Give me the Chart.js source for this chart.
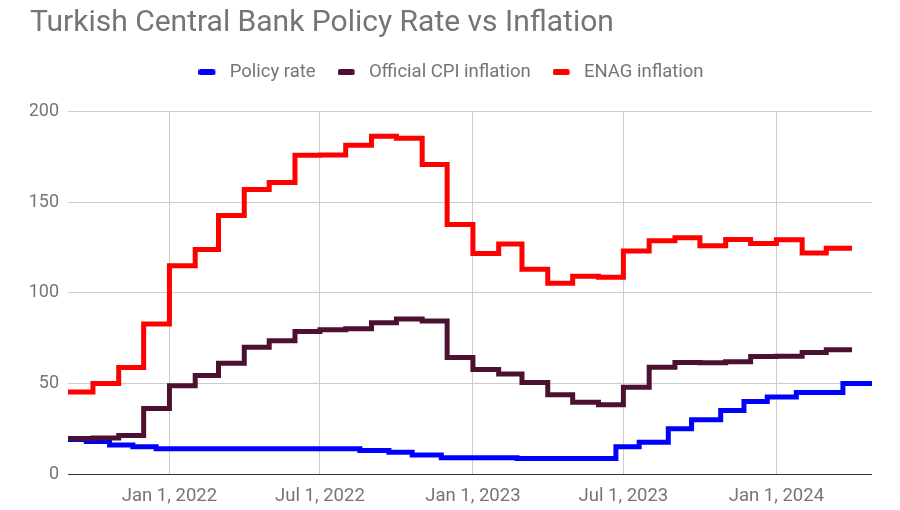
<!DOCTYPE html>
<html>
<head>
<meta charset="utf-8">
<title>Turkish Central Bank Policy Rate vs Inflation</title>
<script src="https://cdn.jsdelivr.net/npm/chart.js@4"></script>
<style>
    html, body { margin: 0; padding: 0; background: #fff; }
    #wrap { position: relative; width: 900px; height: 510px; }
</style>
</head>
<body>
<div id="wrap"><canvas id="rateChart"></canvas></div>
<script>
// Monthly inflation readings (first of month), the last step runs until inflationEnd
const inflationMonths = [
    '2021-09-01', '2021-10-01', '2021-11-01', '2021-12-01',
    '2022-01-01', '2022-02-01', '2022-03-01', '2022-04-01', '2022-05-01', '2022-06-01',
    '2022-07-01', '2022-08-01', '2022-09-01', '2022-10-01', '2022-11-01', '2022-12-01',
    '2023-01-01', '2023-02-01', '2023-03-01', '2023-04-01', '2023-05-01', '2023-06-01',
    '2023-07-01', '2023-08-01', '2023-09-01', '2023-10-01', '2023-11-01', '2023-12-01',
    '2024-01-01', '2024-02-01', '2024-03-01'
];
const inflationEnd = '2024-04-01';

const cpiInflation = [
    19.6, 19.9, 21.3, 36.1,
    48.7, 54.4, 61.1, 70.0, 73.5, 78.6, 79.6, 80.2, 83.5, 85.5, 84.4, 64.3,
    57.7, 55.2, 50.5, 43.7, 39.6, 38.2, 47.8, 58.9, 61.5, 61.4, 62.0, 64.8,
    64.9, 67.1, 68.5
];
const enagInflation = [
    45.3, 49.9, 58.7, 82.8,
    114.9, 123.8, 142.6, 156.9, 160.8, 175.9, 176.0, 181.4, 186.3, 185.3, 170.7, 137.6,
    121.6, 126.9, 113.0, 105.2, 109.1, 108.6, 123.1, 128.7, 130.3, 126.0, 129.4, 127.2,
    129.3, 121.9, 124.6
];

// Policy rate changes (MPC decision dates)
const policyDates = [
    '2021-09-01', '2021-09-23', '2021-10-21', '2021-11-18', '2021-12-16',
    '2022-08-18', '2022-09-22', '2022-10-20', '2022-11-24', '2023-02-23',
    '2023-06-22', '2023-07-20', '2023-08-24', '2023-09-21', '2023-10-26',
    '2023-11-23', '2023-12-21', '2024-01-25', '2024-03-21', '2024-04-25'
];
const policyRate = [19, 18, 16, 15, 14, 13, 12, 10.5, 9, 8.5, 15, 17.5, 25, 30, 35, 40, 42.5, 45, 50, 50];

const xTickDates = ['2022-01-01', '2022-07-01', '2023-01-01', '2023-07-01', '2024-01-01'];
const yTicks = [0, 50, 100, 150, 200];

const monthNames = ['Jan', 'Feb', 'Mar', 'Apr', 'May', 'Jun', 'Jul', 'Aug', 'Sep', 'Oct', 'Nov', 'Dec'];
const toTime = s => Date.parse(s);

function formatDate(t) {
    const d = new Date(t);
    return `${monthNames[d.getUTCMonth()]} ${d.getUTCDate()}, ${d.getUTCFullYear()}`;
}

function stepSeries(dates, values, endDate) {
    const pts = dates.map((d, i) => ({ x: toTime(d), y: values[i] }));
    if (endDate) pts.push({ x: toTime(endDate), y: values[values.length - 1] });
    return pts;
}

// small rounded bar for the legend, with room after it for the gap to the text
function legendMarker(color) {
    const c = document.createElement('canvas');
    c.width = 22;
    c.height = 6;
    const g = c.getContext('2d');
    g.fillStyle = color;
    g.beginPath();
    if (g.roundRect) g.roundRect(0, 0, 17, 6, 2); else g.rect(0, 0, 17, 6);
    g.fill();
    return c;
}

const legendSpacing = {
    id: 'legendSpacing',
    beforeInit(chart) {
        const fit = chart.legend.fit;
        chart.legend.fit = function () {
            fit.bind(chart.legend)();
            this.height += 20;
        };
    }
};

const font = { family: 'Roboto' };
const textGray = '#757575';

const series = [
    { label: 'Policy rate', color: '#0000ff', data: stepSeries(policyDates, policyRate), order: 3 },
    { label: 'Official CPI inflation', color: '#4c1130', data: stepSeries(inflationMonths, cpiInflation, inflationEnd), order: 2 },
    { label: 'ENAG inflation', color: '#ff0000', data: stepSeries(inflationMonths, enagInflation, inflationEnd), order: 1 }
];

new Chart(document.getElementById('rateChart').getContext('2d'), {
    type: 'line',
    data: {
        datasets: series.map(s => ({
            label: s.label,
            data: s.data,
            order: s.order,
            borderColor: s.color,
            backgroundColor: s.color,
            borderWidth: 5,
            borderJoinStyle: 'miter',
            borderCapStyle: 'butt',
            stepped: true,
            pointRadius: 0,
            pointHoverRadius: 0,
            pointStyle: legendMarker(s.color),
            fill: false
        }))
    },
    options: {
        responsive: true,
        maintainAspectRatio: false,
        animation: false,
        layout: { padding: { top: 0, left: 30, right: 28, bottom: 0 } },
        plugins: {
            title: {
                display: true,
                text: 'Turkish Central Bank Policy Rate vs Inflation',
                align: 'start',
                color: textGray,
                font: { ...font, size: 30, weight: 'normal' },
                padding: { top: 5, bottom: 0 }
            },
            legend: {
                position: 'top',
                align: 'center',
                labels: {
                    usePointStyle: true,
                    pointStyleWidth: 22,
                    padding: 22,
                    color: textGray,
                    font: { ...font, size: 18.5 },
                    sort: (a, b) => a.datasetIndex - b.datasetIndex
                }
            },
            tooltip: { enabled: false }
        },
        scales: {
            x: {
                type: 'linear',
                min: toTime(policyDates[0]),
                max: toTime(policyDates[policyDates.length - 1]),
                afterBuildTicks: scale => {
                    scale.ticks = xTickDates.map(d => ({ value: toTime(d) }));
                },
                afterFit: scale => { scale.height = 36; },
                border: { display: false },
                grid: { color: '#cccccc', drawTicks: false },
                ticks: {
                    autoSkip: false,
                    maxRotation: 0,
                    padding: 11,
                    color: textGray,
                    font: { ...font, size: 18.5 },
                    callback: v => formatDate(v)
                }
            },
            y: {
                min: yTicks[0],
                max: yTicks[yTicks.length - 1],
                afterBuildTicks: scale => {
                    scale.ticks = yTicks.map(v => ({ value: v }));
                },
                afterFit: scale => { scale.width = 38; },
                border: { display: false },
                grid: {
                    color: ctx => (ctx.tick && ctx.tick.value === 0 ? '#333333' : '#cccccc'),
                    drawTicks: false
                },
                ticks: {
                    padding: 9,
                    color: textGray,
                    font: { ...font, size: 18 }
                }
            }
        }
    },
    plugins: [legendSpacing]
});
</script>
</body>
</html>
